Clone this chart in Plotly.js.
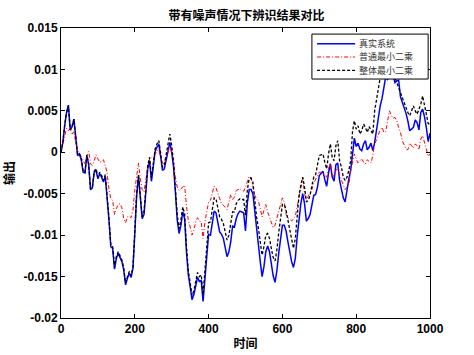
<!DOCTYPE html>
<html><head><meta charset="utf-8">
<script src="https://cdn.plot.ly/plotly-3.0.1.min.js"></script>
<style>body{margin:0;background:#fff}#plot{width:474px;height:355px}</style>
</head><body><div id="plot"></div>
<script>
var time = [];
for (var i = 0; i <= 200; i++) time.push(i * 5);

var trueSystem = [
0,0.0012,0.0032,0.0048,0.0057,0.0027,0.0031,0.0040,0.0018,-0.0004,
-0.0002,-0.0009,-0.0024,-0.0025,-0.0004,-0.0015,-0.0045,-0.0043,-0.0024,-0.0022,
-0.0032,-0.0026,-0.0030,-0.0036,-0.0029,-0.0052,-0.0082,-0.0114,-0.0116,-0.0141,
-0.0128,-0.0122,-0.0127,-0.0132,-0.0142,-0.0160,-0.0152,-0.0146,-0.0151,-0.0140,
-0.0098,-0.0052,-0.0029,-0.0060,-0.0080,-0.0075,-0.0041,-0.0020,-0.0010,-0.0035,
-0.0018,0.0001,0.0006,0.0010,-0.0005,-0.0022,-0.0020,-0.0010,0.0003,0.0012,
0.0000,-0.0018,-0.0048,-0.0082,-0.0098,-0.0088,-0.0072,-0.0080,-0.0120,-0.0148,
-0.0162,-0.0178,-0.0172,-0.0160,-0.0151,-0.0156,-0.0155,-0.0180,-0.0150,-0.0124,
-0.0099,-0.0100,-0.0085,-0.0071,-0.0073,-0.0083,-0.0096,-0.0099,-0.0104,-0.0115,
-0.0126,-0.0120,-0.0108,-0.0089,-0.0090,-0.0080,-0.0074,-0.0071,-0.0072,-0.0073,
-0.0095,-0.0061,-0.0045,-0.0045,-0.0050,-0.0072,-0.0095,-0.0112,-0.0132,-0.0150,
-0.0138,-0.0120,-0.0113,-0.0120,-0.0135,-0.0149,-0.0157,-0.0143,-0.0122,-0.0105,
-0.0088,-0.0088,-0.0095,-0.0108,-0.0120,-0.0132,-0.0139,-0.0128,-0.0102,-0.0078,
-0.0062,-0.0050,-0.0062,-0.0083,-0.0080,-0.0075,-0.0062,-0.0052,-0.0051,-0.0042,
-0.0028,-0.0026,-0.0023,-0.0033,-0.0041,-0.0025,-0.0014,-0.0030,-0.0035,-0.0015,
-0.0013,-0.0034,-0.0045,-0.0055,-0.0060,-0.0045,-0.0032,-0.0022,-0.0005,0.0017,
0.0007,0.0011,0.0004,0.0002,0.0010,0.0014,0.0003,0.0006,0.0011,0.0002,
0.0012,0.0028,0.0043,0.0056,0.0065,0.0080,0.0091,0.0088,0.0092,0.0096,
0.0092,0.0084,0.0086,0.0087,0.0067,0.0060,0.0056,0.0047,0.0038,0.0026,
0.0028,0.0030,0.0039,0.0036,0.0027,0.0048,0.0052,0.0043,0.0030,0.0013,
0.0023];

var ordinaryLS = [
0,0.0010,0.0022,0.0029,0.0026,0.0029,0.0022,0.0025,0.0011,0.0002,
-0.0002,-0.0005,-0.0010,-0.0014,-0.0004,0.0001,-0.0014,-0.0016,-0.0010,-0.0003,
-0.0008,-0.0012,-0.0011,-0.0009,-0.0016,-0.0025,-0.0045,-0.0056,-0.0058,-0.0075,
-0.0068,-0.0063,-0.0062,-0.0067,-0.0080,-0.0085,-0.0078,-0.0077,-0.0079,-0.0070,
-0.0045,-0.0028,-0.0013,-0.0032,-0.0045,-0.0048,-0.0030,-0.0018,-0.0008,-0.0006,
-0.0003,-0.0002,0.0002,0.0003,-0.0006,-0.0015,-0.0012,-0.0005,0.0002,0.0007,
0.0000,-0.0010,-0.0030,-0.0042,-0.0046,-0.0044,-0.0042,-0.0040,-0.0065,-0.0082,
-0.0090,-0.0100,-0.0094,-0.0084,-0.0079,-0.0083,-0.0084,-0.0104,-0.0084,-0.0070,
-0.0060,-0.0058,-0.0050,-0.0041,-0.0043,-0.0050,-0.0055,-0.0062,-0.0064,-0.0066,
-0.0069,-0.0060,-0.0051,-0.0057,-0.0054,-0.0046,-0.0045,-0.0044,-0.0046,-0.0047,
-0.0042,-0.0035,-0.0029,-0.0031,-0.0042,-0.0052,-0.0056,-0.0059,-0.0068,-0.0078,
-0.0070,-0.0063,-0.0072,-0.0079,-0.0084,-0.0091,-0.0088,-0.0080,-0.0073,-0.0066,
-0.0055,-0.0060,-0.0075,-0.0079,-0.0081,-0.0083,-0.0080,-0.0077,-0.0066,-0.0053,
-0.0040,-0.0031,-0.0050,-0.0058,-0.0053,-0.0049,-0.0045,-0.0037,-0.0033,-0.0028,
-0.0024,-0.0024,-0.0026,-0.0028,-0.0030,-0.0020,-0.0013,-0.0026,-0.0030,-0.0022,
-0.0019,-0.0028,-0.0033,-0.0040,-0.0045,-0.0042,-0.0039,-0.0022,-0.0010,-0.0002,
-0.0008,-0.0013,-0.0010,-0.0008,-0.0012,-0.0014,-0.0009,-0.0011,-0.0013,-0.0004,
0.0010,0.0015,0.0021,0.0027,0.0030,0.0024,0.0025,0.0038,0.0050,0.0045,
0.0041,0.0042,0.0038,0.0030,0.0024,0.0014,0.0009,0.0004,0.0003,0.0011,
0.0008,0.0005,0.0010,0.0008,0.0003,0.0016,0.0020,0.0010,0.0004,-0.0005,
-0.0002];

var totalLS = [
0,0.0013,0.0033,0.0048,0.0056,0.0027,0.0031,0.0040,0.0019,-0.0003,
-0.0002,-0.0008,-0.0023,-0.0024,-0.0003,-0.0014,-0.0044,-0.0042,-0.0023,-0.0020,
-0.0030,-0.0024,-0.0028,-0.0034,-0.0027,-0.0050,-0.0080,-0.0112,-0.0114,-0.0139,
-0.0126,-0.0120,-0.0125,-0.0130,-0.0140,-0.0158,-0.0150,-0.0144,-0.0149,-0.0138,
-0.0096,-0.0050,-0.0027,-0.0058,-0.0078,-0.0072,-0.0038,-0.0016,-0.0006,-0.0031,
-0.0014,0.0004,0.0010,0.0014,-0.0001,-0.0018,-0.0016,-0.0005,0.0010,0.0022,
0.0008,-0.0012,-0.0042,-0.0076,-0.0092,-0.0082,-0.0066,-0.0074,-0.0114,-0.0143,
-0.0157,-0.0173,-0.0167,-0.0154,-0.0145,-0.0150,-0.0148,-0.0172,-0.0140,-0.0112,
-0.0085,-0.0084,-0.0068,-0.0055,-0.0056,-0.0066,-0.0078,-0.0081,-0.0086,-0.0096,
-0.0106,-0.0100,-0.0088,-0.0072,-0.0072,-0.0062,-0.0058,-0.0056,-0.0057,-0.0057,
-0.0076,-0.0045,-0.0032,-0.0031,-0.0036,-0.0058,-0.0078,-0.0092,-0.0108,-0.0124,
-0.0114,-0.0100,-0.0098,-0.0104,-0.0116,-0.0127,-0.0131,-0.0118,-0.0097,-0.0078,
-0.0063,-0.0063,-0.0070,-0.0082,-0.0094,-0.0106,-0.0116,-0.0104,-0.0078,-0.0052,
-0.0040,-0.0030,-0.0042,-0.0060,-0.0058,-0.0052,-0.0040,-0.0030,-0.0027,-0.0017,
-0.0004,-0.0003,-0.0002,-0.0012,-0.0020,-0.0002,0.0010,-0.0006,-0.0010,0.0008,
0.0014,-0.0010,-0.0018,-0.0030,-0.0034,-0.0030,-0.0022,-0.0010,0.0025,0.0038,
0.0028,0.0032,0.0022,0.0026,0.0034,0.0030,0.0024,0.0031,0.0026,0.0022,
0.0050,0.0064,0.0076,0.0090,0.0098,0.0104,0.0108,0.0106,0.0110,0.0112,
0.0106,0.0090,0.0084,0.0078,0.0072,0.0064,0.0059,0.0053,0.0048,0.0044,
0.0050,0.0056,0.0050,0.0046,0.0052,0.0058,0.0068,0.0058,0.0048,0.0035,
0.0033];

var seriesNames = ['真实系统', '普通最小二乘', '整体最小二乘'];
var xTicks = [0, 200, 400, 600, 800, 1000];
var yTicks = [0.015, 0.01, 0.005, 0, -0.005, -0.01, -0.015, -0.02];
var yTickText = ['0.015', '0.01', '0.005', '0', '-0.005', '-0.01', '-0.015', '-0.02'];

var tickFont = {family: 'Liberation Sans, Arial, sans-serif', size: 12, color: '#000', weight: 'bold'};
var cjkFont = 'Noto Sans CJK SC, sans-serif';

var lineStyles = [
  {color: '#0000ff', width: 1.5},
  {color: '#ff0000', width: 1, dash: '4px,2px,1px,2px'},
  {color: '#000000', width: 1.3, dash: '3px,2px'}
];
var seriesData = [trueSystem, ordinaryLS, totalLS];

var traces = seriesData.map(function (ys, k) {
  return {x: time, y: ys, name: seriesNames[k], mode: 'lines', line: lineStyles[k], showlegend: false};
});

// compact MATLAB-style legend box (paper coordinates)
var legBox = {x0: 0.680, x1: 0.995, y0: 0.824, y1: 0.979};
var rowY = [0.946, 0.900, 0.854];
var shapes = [{type: 'rect', xref: 'paper', yref: 'paper', x0: legBox.x0, x1: legBox.x1, y0: legBox.y0, y1: legBox.y1,
  fillcolor: '#fff', line: {color: '#000', width: 1}, layer: 'above'}];
var annotations = [];
rowY.forEach(function (yy, k) {
  shapes.push({type: 'line', xref: 'paper', yref: 'paper', x0: 0.694, x1: 0.797, y0: yy, y1: yy,
    line: lineStyles[k], layer: 'above'});
  annotations.push({xref: 'paper', yref: 'paper', x: 0.806, y: yy, xanchor: 'left', yanchor: 'middle',
    text: seriesNames[k], showarrow: false, borderpad: 0, font: {family: cjkFont, size: 9, color: '#333'}});
});

var layout = {
  width: 474, height: 355,
  margin: {l: 61, r: 44, t: 28, b: 37},
  paper_bgcolor: '#fff', plot_bgcolor: '#fff',
  title: {text: '带有噪声情况下辨识结果对比', font: {family: cjkFont, size: 12, color: '#000', weight: 'bold'}, x: 0.52, xanchor: 'center', y: 0.955, yanchor: 'middle'},
  xaxis: {range: [0, 1000], tickvals: xTicks, ticktext: xTicks.map(String), ticks: 'inside', ticklen: 4, tickcolor: '#000',
    showline: true, linecolor: '#000', linewidth: 1, mirror: 'ticks', showgrid: false, zeroline: false, tickfont: tickFont,
    title: {text: '时间', font: {family: cjkFont, size: 12, color: '#000', weight: 'bold'}, standoff: 4}},
  yaxis: {range: [-0.02, 0.015], tickvals: yTicks, ticktext: yTickText, ticks: 'inside', ticklen: 4, tickcolor: '#000',
    showline: true, linecolor: '#000', linewidth: 1, mirror: 'ticks', showgrid: false, zeroline: false, tickfont: tickFont,
    title: {text: '输出', font: {family: cjkFont, size: 12, color: '#000', weight: 'bold'}, standoff: 6}},
  showlegend: false,
  shapes: shapes,
  annotations: annotations
};

Plotly.newPlot('plot', traces, layout, {staticPlot: true, displayModeBar: false});
</script>
</body></html>
